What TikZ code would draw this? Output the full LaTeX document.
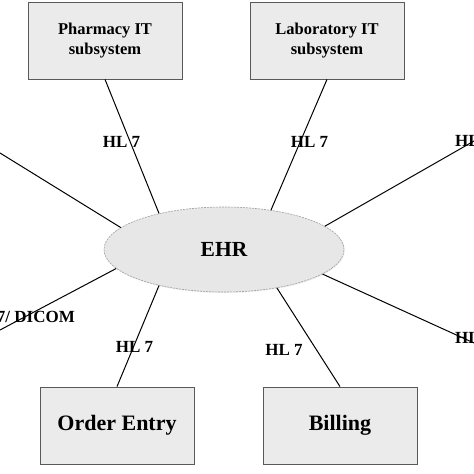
\documentclass[tikz,border=0pt]{standalone}
\usepackage{fontspec}
\setmainfont{Liberation Serif}
\usetikzlibrary{shapes.geometric,shadows}
\definecolor{boxgray}{HTML}{EBEBEB}
\definecolor{ehrgray}{HTML}{E7E7E7}
\begin{document}
\begin{tikzpicture}[x=1pt,y=-1pt,
  sysbox/.style={draw=gray!70!black, fill=boxgray, line width=0.8pt,
    minimum width=154pt, minimum height=77pt, inner sep=0pt, align=center,
    font=\bfseries\fontsize{16.5pt}{20pt}\selectfont,
    drop shadow={shadow xshift=1.2pt, shadow yshift=-1.2pt, fill=gray!30}},
  bigbox/.style={sysbox, font=\bfseries\fontsize{22pt}{24pt}\selectfont},
  hub/.style={ellipse, draw=gray!75, dash pattern=on 2pt off 1pt, line width=0.6pt,
    fill=ehrgray, minimum width=240pt, minimum height=85pt, inner sep=0pt,
    font=\bfseries\fontsize{21.5pt}{24pt}\selectfont,
    drop shadow={shadow xshift=0.8pt, shadow yshift=-1pt, fill=gray!25}},
  link/.style={line width=1pt, black},
  lbl/.style={inner sep=0pt, font=\bfseries\fontsize{17pt}{19pt}\selectfont}
]
\useasboundingbox (0,0) rectangle (474,474);
\clip (0,0) rectangle (474,474);
\fill[white] (0,0) rectangle (474,474);

\node[sysbox] (pharm) at (105,40.5) {Pharmacy IT\\subsystem};
\node[sysbox] (lab) at (327,40.5) {Laboratory IT\\subsystem};
\node[bigbox] (order) at (117,425.5) {Order Entry};
\node[bigbox] (bill) at (340,425.5) {Billing};
\node[hub] (ehr) at (224,249.5) {EHR};

\coordinate (lu) at (0,153);
\coordinate (ll) at (0,330);
\coordinate (ru) at (474,141);
\coordinate (rl) at (474,343);

\draw[link] (pharm.south) -- (ehr.151);
\draw[link] (lab.south) -- (ehr.40.7);
\draw[link] (lu) -- (ehr.168.8);
\draw[link] (ru) -- (ehr.13.8);
\draw[link] (ll) -- (ehr.190.1);
\draw[link] (rl) -- (ehr.346.2);
\draw[link] (order.north) -- (ehr.209.3);
\draw[link] (bill.north) -- (ehr.324.3);

\node[lbl] (l1) at (121.5,142) {HL 7};
\node[lbl] (l2) at (309.5,142) {HL 7};
\node[lbl, anchor=west] (l3) at (455,141) {HL 7};
\node[lbl, anchor=west] (l4) at (455,338) {HL 7};
\node[lbl, anchor=east] (l5) at (75,317) {HL 7/ DICOM};
\node[lbl] (l6) at (134.5,347) {HL 7};
\node[lbl] (l7) at (284,350) {HL 7};
\end{tikzpicture}
\end{document}
